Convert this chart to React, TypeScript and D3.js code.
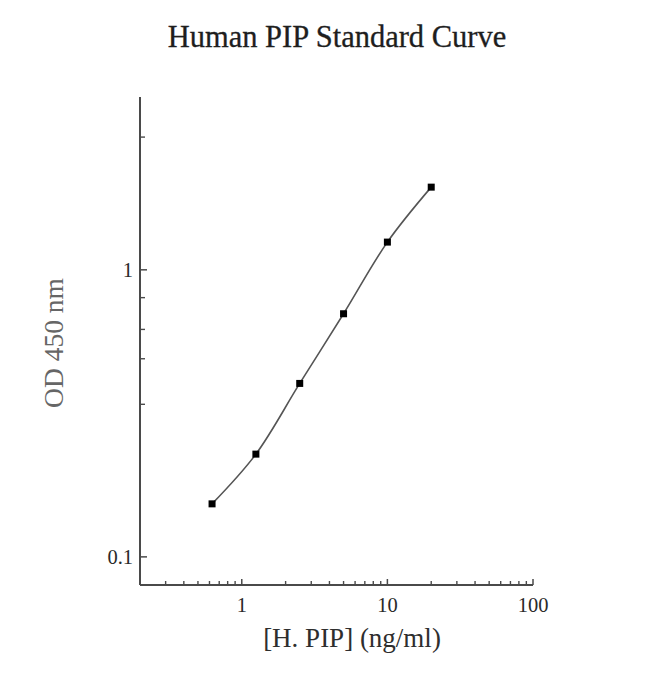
import React from "react";
import * as d3 from "d3";

const concentrations = [0.625, 1.25, 2.5, 5, 10, 20];
const odValues = [0.153, 0.228, 0.402, 0.703, 1.249, 1.941];
const xMajorTicks = [1, 10, 100];
const xTickLabels = ["1", "10", "100"];
const yMajorTicks = [0.1, 1];
const yTickLabels = ["0.1", "1"];
const yMinorTicks = [0.34, 0.49, 0.62, 0.8, 2.9];
const title = "Human PIP Standard Curve";
const xLabel = "[H. PIP] (ng/ml)";
const yLabel = "OD 450 nm";

const W = 650;
const H = 699;
const left = 140;
const right = 533;
const top = 97;
const bottom = 585;

export default function App() {
  const x = d3.scaleLog().domain([0.2, 100]).range([left, right]);
  const y = d3.scaleLog().domain([0.0798, 4.0]).range([bottom, top]);

  const xMinor: number[] = [];
  for (const dec of [0.1, 1, 10]) {
    for (let k = 2; k <= 9; k++) {
      const v = +(dec * k).toFixed(3);
      if (v >= 0.2 && v <= 100) xMinor.push(v);
    }
  }

  const pts = concentrations.map((c, i) => ({ c, od: odValues[i] }));
  const line = d3
    .line<{ c: number; od: number }>()
    .x((d) => x(d.c))
    .y((d) => y(d.od))
    .curve(d3.curveCatmullRom.alpha(0.5));

  const axisColor = "#4a4a4a";
  const font = "'Liberation Serif', 'Times New Roman', serif";

  return (
    <svg width={W} height={H} style={{ position: "absolute", left: 0, top: 0, background: "#fff" }}>
      <rect width={W} height={H} fill="#fff" />
      <text x={337} y={47} textAnchor="middle" fontFamily={font} fontSize={30.5} fill="#1e1e1e" stroke="#1e1e1e" strokeWidth={0.3}>
        {title}
      </text>
      {/* axes */}
      <line x1={left} x2={left} y1={top} y2={bottom} stroke={axisColor} strokeWidth={2} />
      <line x1={left} x2={right} y1={bottom} y2={bottom} stroke={axisColor} strokeWidth={2} />
      {/* x ticks */}
      {xMinor.map((v) => (
        <line key={"xm" + v} x1={x(v)} x2={x(v)} y1={bottom} y2={bottom - 4} stroke={axisColor} strokeWidth={1.4} />
      ))}
      {xMajorTicks.map((v, i) => (
        <g key={"xM" + v}>
          <line x1={x(v)} x2={x(v)} y1={bottom} y2={bottom - 6} stroke={axisColor} strokeWidth={1.5} />
          <text x={x(v)} y={612} textAnchor="middle" fontFamily={font} fontSize={20.5} fill="#2a2a2a">
            {xTickLabels[i]}
          </text>
        </g>
      ))}
      {/* y ticks */}
      {yMinorTicks.map((v) => (
        <line key={"ym" + v} x1={left} x2={left + 5} y1={y(v)} y2={y(v)} stroke={axisColor} strokeWidth={1.4} />
      ))}
      {yMajorTicks.map((v, i) => (
        <g key={"yM" + v}>
          <line x1={left} x2={left + 7} y1={y(v)} y2={y(v)} stroke={axisColor} strokeWidth={1.5} />
          <text x={133} y={y(v) + 7} textAnchor="end" fontFamily={font} fontSize={20.5} fill="#2a2a2a">
            {yTickLabels[i]}
          </text>
        </g>
      ))}
      {/* curve */}
      <path d={line(pts) || ""} fill="none" stroke="#555" strokeWidth={1.6} />
      {pts.map((p) => (
        <rect key={p.c} x={x(p.c) - 3.5} y={y(p.od) - 3.5} width={7} height={7} fill="#000" />
      ))}
      <text x={352} y={647} textAnchor="middle" fontFamily={font} fontSize={27} fill="#2e2e2e">
        {xLabel}
      </text>
      <text
        transform={`translate(63, 343) rotate(-90)`}
        textAnchor="middle"
        fontFamily={font}
        fontSize={27.5}
        fill="#666"
      >
        {yLabel}
      </text>
    </svg>
  );
}
